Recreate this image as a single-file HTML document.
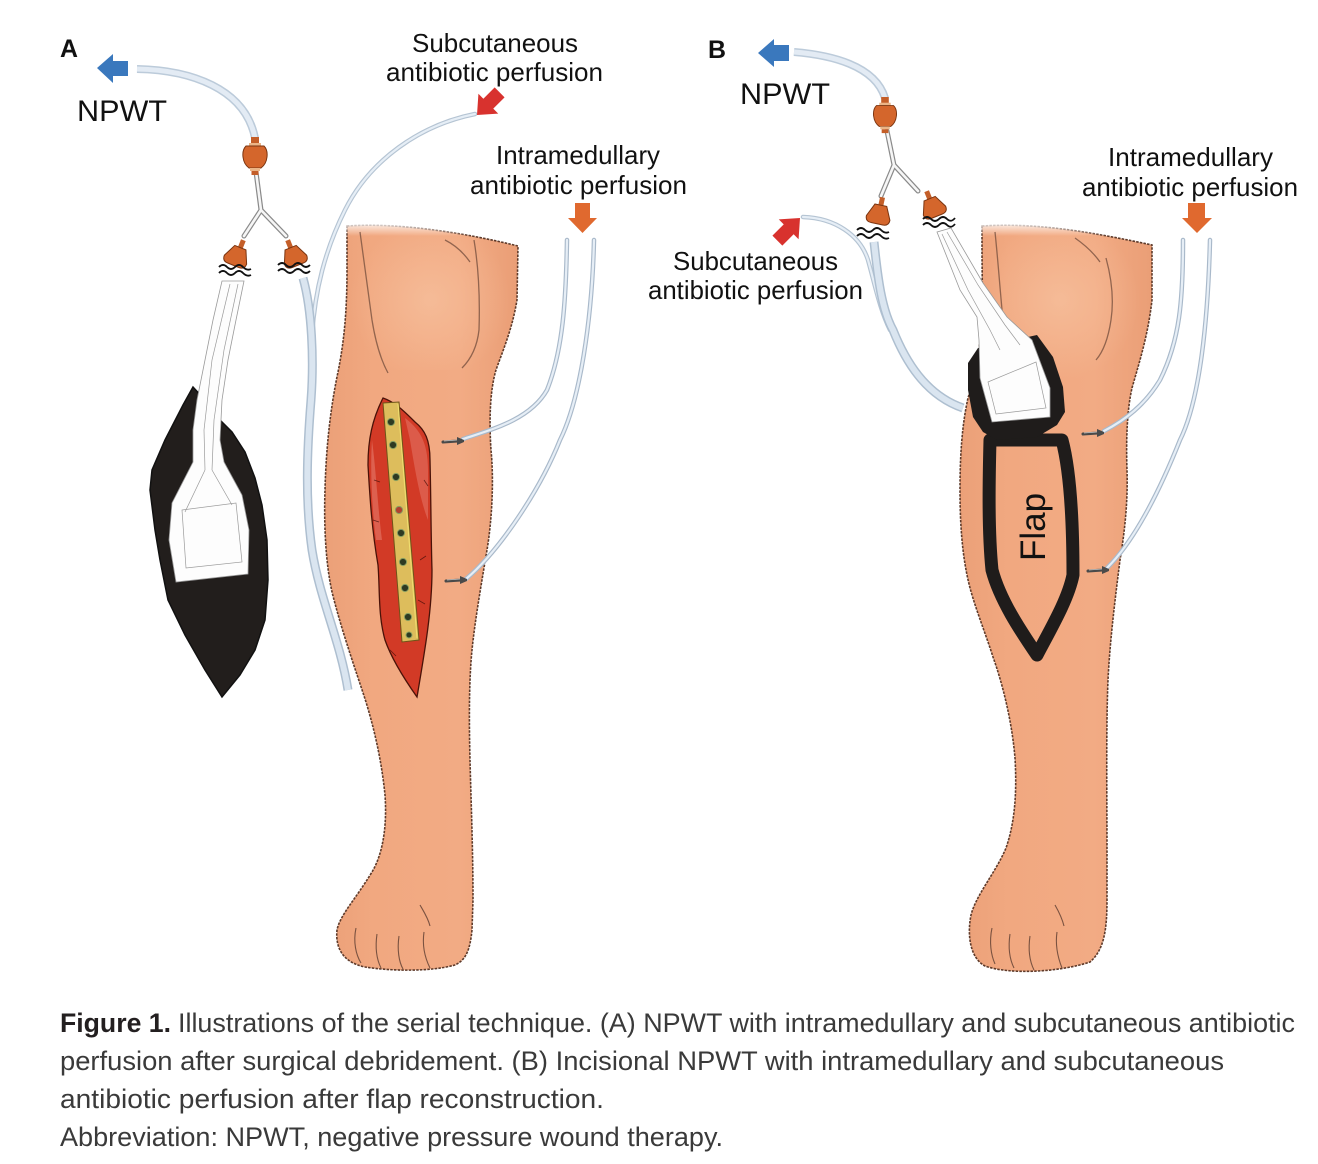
<!DOCTYPE html>
<html>
<head>
<meta charset="utf-8">
<style>
html,body{margin:0;padding:0;background:#fff;}
svg{display:block;}
text{font-family:"Liberation Sans",Arial,sans-serif;}
</style>
</head>
<body>
<svg width="1318" height="1164" viewBox="0 0 1318 1164" xmlns="http://www.w3.org/2000/svg">
<defs>
  <linearGradient id="skinH" x1="0" y1="0" x2="1" y2="0">
    <stop offset="0" stop-color="#eba078"/>
    <stop offset="0.25" stop-color="#f1a880"/>
    <stop offset="0.7" stop-color="#f2ab84"/>
    <stop offset="1" stop-color="#ea9e76"/>
  </linearGradient>
  <radialGradient id="kneeA" cx="430" cy="300" r="80" gradientUnits="userSpaceOnUse">
    <stop offset="0" stop-color="#f6bf9c" stop-opacity="0.8"/>
    <stop offset="1" stop-color="#f6bf9c" stop-opacity="0"/>
  </radialGradient>
  <radialGradient id="kneeB" cx="1060" cy="300" r="80" gradientUnits="userSpaceOnUse">
    <stop offset="0" stop-color="#f6bf9c" stop-opacity="0.8"/>
    <stop offset="1" stop-color="#f6bf9c" stop-opacity="0"/>
  </radialGradient>
  <linearGradient id="fadeTop" x1="0" y1="221" x2="0" y2="236" gradientUnits="userSpaceOnUse">
    <stop offset="0" stop-color="#fff" stop-opacity="0"/>
    <stop offset="1" stop-color="#fff" stop-opacity="1"/>
  </linearGradient>
  <mask id="legMask" maskUnits="userSpaceOnUse" x="0" y="0" width="1318" height="1164">
    <rect x="0" y="0" width="1318" height="1164" fill="url(#fadeTop)"/>
  </mask>
</defs>

<rect x="0" y="0" width="1318" height="1164" fill="#fff"/>

<!-- ================= PANEL A ================= -->
<g mask="url(#legMask)">
  <path d="M 347 226 C 400 222, 470 234, 518 246 L 517 300 C 512 330, 503 350, 496 370 C 490 390, 489 420, 491 450 C 494 480, 492 520, 487 550 C 482 580, 475 620, 472 650 C 469 680, 469 720, 470 760 C 471 800, 473 850, 473 900 L 472 930 C 470 950, 466 960, 455 965 C 430 972, 390 971, 365 967 C 345 963, 335 950, 337 930 C 340 915, 355 900, 372 872 C 384 852, 387 822, 385 795 C 382 765, 376 735, 366 702 C 355 668, 342 632, 332 592 C 325 560, 324 520, 325 490 C 326 450, 330 410, 338 372 C 344 342, 347 312, 347 270 Z" fill="url(#skinH)" stroke="#5e3a2a" stroke-width="1.6" stroke-dasharray="2.5 1.2"/>
  <path d="M 347 226 C 400 222, 470 234, 518 246 L 517 300 C 512 330, 503 350, 496 370 L 340 370 C 346 340, 347 312, 347 270 Z" fill="url(#kneeA)"/>
</g>
<g fill="none" stroke="#7a5240" stroke-width="1.3" opacity="0.8">
  <path d="M 360 232 C 364 260, 368 290, 372 320 C 376 345, 382 362, 388 373"/>
  <path d="M 474 240 C 479 270, 480 300, 479 330 C 477 348, 470 360, 462 368"/>
  <path d="M 445 240 C 455 245, 463 252, 470 262"/>
</g>
<g fill="none" stroke="#7a5240" stroke-width="1.1">
  <path d="M 356 928 C 353 942, 356 955, 361 963"/>
  <path d="M 377 934 C 375 948, 377 960, 381 968"/>
  <path d="M 399 936 C 397 950, 399 962, 403 969"/>
  <path d="M 424 932 C 422 946, 425 958, 430 968"/>
  <path d="M 420 905 C 424 912, 428 918, 430 926"/>
</g>

<!-- Wound A -->
<path d="M 383 398 C 395 402, 405 412, 415 422 C 425 430, 430 440, 430 460 C 431 500, 431 540, 432 570 C 432 610, 425 650, 417 697 C 405 680, 392 660, 385 640 C 378 615, 380 590, 378 565 C 372 530, 370 500, 368 465 C 368 440, 372 420, 383 398 Z" fill="#d23a26" stroke="#4a1208" stroke-width="1.3"/>
<path d="M 405 418 C 418 428, 428 440, 428 470 L 428 520 C 420 500, 415 470, 410 440 Z" fill="#e06a5a" opacity="0.7"/>
<path d="M 372 440 C 376 470, 378 510, 382 540 L 376 540 C 372 510, 370 470, 372 440 Z" fill="#e47a6a" opacity="0.6"/>
<g stroke="#3a0a05" stroke-width="0.8" fill="none" opacity="0.7">
  <path d="M 374 480 L 380 482 M 373 520 L 379 522 M 420 560 L 426 556 M 418 600 L 425 604 M 390 650 L 396 656 M 424 480 L 428 486"/>
</g>
<path d="M 383 403 L 399 402 L 419 640 L 402 642 Z" fill="#ddbd5c" stroke="#6e5418" stroke-width="1"/>
<line x1="398" y1="404" x2="417" y2="638" stroke="#f0e070" stroke-width="1"/>
<g fill="#2e3a22" stroke="#8aa060" stroke-width="1">
  <circle cx="391" cy="422" r="3.6"/>
  <circle cx="393" cy="445" r="3.6"/>
  <circle cx="396" cy="477" r="3.6"/>
  <circle cx="399" cy="510" r="3.6" fill="#b04030"/>
  <circle cx="401" cy="533" r="3.6"/>
  <circle cx="403" cy="562" r="3.6"/>
  <circle cx="405" cy="588" r="3.6"/>
  <circle cx="408" cy="617" r="3.6"/>
  <circle cx="409" cy="635" r="3"/>
</g>

<g fill="none" stroke-linecap="round">
  <path d="M 567 240 C 566 300, 563 350, 547 390 C 530 420, 490 430, 463 439" stroke="#a9b9ca" stroke-width="4.5"/>
  <path d="M 567 240 C 566 300, 563 350, 547 390 C 530 420, 490 430, 463 439" stroke="#e6eef6" stroke-width="2.2"/>
  <path d="M 594 240 C 592 320, 580 400, 560 440 C 540 490, 500 550, 466 579" stroke="#a9b9ca" stroke-width="4.5"/>
  <path d="M 594 240 C 592 320, 580 400, 560 440 C 540 490, 500 550, 466 579" stroke="#e6eef6" stroke-width="2.2"/>
</g>
<g>
  <line x1="443" y1="442" x2="458" y2="441" stroke="#4a4a4a" stroke-width="3" stroke-linecap="round"/>
  <path d="M 457 437 L 464 440 L 464 442 L 457 445 Z" fill="#4a4a4a"/>
  <line x1="444" y1="441" x2="457" y2="440" stroke="#c8c8c8" stroke-width="0.8"/>
  <line x1="446" y1="581" x2="461" y2="580" stroke="#4a4a4a" stroke-width="3" stroke-linecap="round"/>
  <path d="M 460 576 L 467 579 L 467 581 L 460 584 Z" fill="#4a4a4a"/>
  <line x1="447" y1="580" x2="460" y2="579" stroke="#c8c8c8" stroke-width="0.8"/>
</g>

<g fill="none" stroke-linecap="round">
  <path d="M 475 114 C 420 125, 370 160, 345 210 C 325 250, 315 290, 312 335" stroke="#b5c4d3" stroke-width="4.5"/>
  <path d="M 475 114 C 420 125, 370 160, 345 210 C 325 250, 315 290, 312 335" stroke="#e6eef6" stroke-width="2.2"/>
  <path d="M 303 278 C 312 310, 314 360, 311 400 C 307 450, 305 500, 312 550 C 320 600, 340 640, 348 690" stroke="#aebfd0" stroke-width="9" stroke-linecap="butt"/>
  <path d="M 303 278 C 312 310, 314 360, 311 400 C 307 450, 305 500, 312 550 C 320 600, 340 640, 348 690" stroke="#dae5f0" stroke-width="6" stroke-linecap="butt"/>
  <path d="M 137 69 C 190 70, 245 88, 255 138" stroke="#bccbda" stroke-width="8" stroke-linecap="butt"/>
  <path d="M 137 69 C 190 70, 245 88, 255 138" stroke="#e3ebf4" stroke-width="5" stroke-linecap="butt"/>
</g>

<!-- Black foam A -->
<path d="M 193 387 L 183 405 L 165 440 L 152 470 L 150 490 L 155 530 L 160 560 L 168 600 L 185 635 L 205 670 L 222 697 L 240 675 L 255 650 L 265 620 L 268 580 L 267 540 L 262 505 L 255 478 L 245 452 L 232 432 L 218 418 L 205 400 Z" fill="#221e1c" stroke="#111" stroke-width="1.5"/>
<path d="M 222 281 L 244 281 L 236 320 L 228 360 L 222 400 L 220 440 L 224 462 L 242 495 L 249 530 L 248 574 L 176 582 L 169 540 L 172 503 L 193 462 L 193 430 L 197 400 L 205 360 L 213 320 Z" fill="#fdfdfd" stroke="#9a9a9a" stroke-width="0.8"/>
<g fill="none" stroke="#9a9a9a" stroke-width="0.7">
  <path d="M 230 284 L 212 360 L 204 430 L 205 470"/>
  <path d="M 238 284 L 224 350 L 214 420 L 212 470"/>
  <path d="M 182 510 L 236 503 L 242 562 L 186 568 Z"/>
  <path d="M 205 470 L 185 512 M 212 470 L 232 505"/>
</g>

<g fill="none" stroke-linecap="round">
  <path d="M 256 172 L 261 210 M 261 210 L 244 236 M 261 210 L 286 236" stroke="#8a8a8a" stroke-width="5"/>
  <path d="M 256 172 L 261 210 M 261 210 L 244 236 M 261 210 L 286 236" stroke="#f6f6f6" stroke-width="2.6"/>
</g>
<g transform="translate(255,137)">
  <rect x="-4" y="0" width="8" height="7" fill="#c45e28"/>
  <rect x="-6" y="6" width="12" height="3" fill="#ebb587"/>
  <path d="M -9 9 C -14 14, -13 26, -6 31 L 6 31 C 13 26, 14 14, 9 9 Z" fill="#d4662c" stroke="#7a3410" stroke-width="1"/>
  <rect x="-5" y="31" width="10" height="3" fill="#ebb587"/>
  <rect x="-3.5" y="34" width="7" height="4" fill="#c45e28"/>
</g>
<g transform="translate(237,256) rotate(22)">
  <rect x="-2.5" y="-17" width="5" height="9" fill="#c45e28"/>
  <path d="M -6 -9 L 6 -9 L 12 4 C 12 9, 9 10, 6 10 L -6 10 C -9 10, -12 9, -12 4 Z" fill="#d4662c" stroke="#7a3410" stroke-width="1"/>
</g>
<g transform="translate(294,256) rotate(-22)">
  <rect x="-2.5" y="-17" width="5" height="9" fill="#c45e28"/>
  <path d="M -6 -9 L 6 -9 L 12 4 C 12 9, 9 10, 6 10 L -6 10 C -9 10, -12 9, -12 4 Z" fill="#d4662c" stroke="#7a3410" stroke-width="1"/>
</g>
<g fill="none" stroke="#111" stroke-width="1.8">
  <path d="M 219 267 q 4 -4 8 0 t 8 0 t 8 0 t 8 2"/>
  <path d="M 219 273 q 4 -4 8 0 t 8 0 t 8 0 t 8 2"/>
  <path d="M 278 265 q 4 -4 8 0 t 8 0 t 8 0 t 8 0"/>
  <path d="M 278 271 q 4 -4 8 0 t 8 0 t 8 0 t 8 0"/>
</g>

<path d="M 97 68 L 113 54 L 113 61 L 128 61 L 128 76 L 113 76 L 113 83 Z" fill="#3a78bd"/>
<path d="M 575 203 L 590 203 L 590 218 L 597 218 L 582.5 233 L 568 218 L 575 218 Z" fill="#e0692f"/>
<g transform="translate(477,115) rotate(135)">
  <path d="M 0 0 L -16 -14 L -16 -7 L -32 -7 L -32 7 L -16 7 L -16 14 Z" fill="#d8322e"/>
</g>

<text x="60" y="57" font-size="25" font-weight="bold" fill="#111" textLength="18" lengthAdjust="spacingAndGlyphs">A</text>
<text x="77" y="121" font-size="30" fill="#111" textLength="90" lengthAdjust="spacingAndGlyphs">NPWT</text>
<text x="412" y="52" font-size="26" fill="#111" textLength="166" lengthAdjust="spacingAndGlyphs">Subcutaneous</text>
<text x="386" y="81" font-size="26" fill="#111" textLength="217" lengthAdjust="spacingAndGlyphs">antibiotic perfusion</text>
<text x="496" y="164" font-size="26" fill="#111" textLength="164" lengthAdjust="spacingAndGlyphs">Intramedullary</text>
<text x="470" y="194" font-size="26" fill="#111" textLength="217" lengthAdjust="spacingAndGlyphs">antibiotic perfusion</text>

<!-- ================= PANEL B ================= -->
<g mask="url(#legMask)">
  <path d="M 982 226 C 1040 222, 1100 234, 1152 245 L 1152 300 C 1148 335, 1140 360, 1132 388 C 1127 410, 1126 440, 1127 470 C 1128 500, 1125 530, 1120 560 C 1115 600, 1110 640, 1108 680 C 1106 730, 1107 800, 1107 850 L 1107 900 C 1107 930, 1104 950, 1090 962 C 1060 972, 1010 975, 985 966 C 970 958, 967 935, 971 915 C 976 895, 996 872, 1006 848 C 1015 822, 1017 792, 1015 758 C 1012 722, 1003 685, 993 657 C 986 635, 979 618, 972 595 C 963 565, 960 530, 960 490 C 960 455, 962 425, 968 398 C 975 375, 979 355, 981 330 C 983 300, 982 270, 982 250 Z" fill="url(#skinH)" stroke="#5e3a2a" stroke-width="1.6" stroke-dasharray="2.5 1.2"/>
  <path d="M 982 226 C 1040 222, 1100 234, 1152 245 L 1152 300 C 1148 335, 1140 360, 1132 388 L 975 388 C 979 355, 982 300, 982 250 Z" fill="url(#kneeB)"/>
</g>
<g fill="none" stroke="#7a5240" stroke-width="1.3" opacity="0.8">
  <path d="M 995 232 C 998 260, 1000 290, 1003 320 C 1005 335, 1008 345, 1012 352"/>
  <path d="M 1106 258 C 1112 280, 1114 300, 1111 320 C 1108 340, 1103 352, 1096 360"/>
  <path d="M 1075 238 C 1085 245, 1093 252, 1100 262"/>
</g>
<g fill="none" stroke="#7a5240" stroke-width="1.1">
  <path d="M 992 928 C 989 942, 991 955, 995 964"/>
  <path d="M 1010 934 C 1008 948, 1010 960, 1014 968"/>
  <path d="M 1030 936 C 1028 950, 1030 962, 1034 970"/>
  <path d="M 1057 932 C 1055 946, 1058 958, 1062 968"/>
  <path d="M 1055 905 C 1059 912, 1062 918, 1064 926"/>
</g>

<path d="M 990 440 L 1062 440 C 1070 470, 1073 520, 1073 575 C 1068 600, 1050 630, 1037 655 C 1020 630, 1000 600, 992 570 C 988 530, 989 480, 990 440 Z" fill="none" stroke="#1f1c1b" stroke-width="13" stroke-linejoin="round"/>
<path d="M 968 363 L 978 348 L 1037 335 L 1053 357 L 1063 387 L 1065 412 L 1057 425 L 1037 437 L 997 440 L 983 432 L 973 417 L 968 390 Z" fill="#1f1c1b"/>
<path d="M 937 232 L 951 228 L 983 283 L 1007 317 L 1032 340 L 1050 388 L 1050 417 L 992 422 L 980 378 L 979 340 L 977 317 L 960 290 Z" fill="#fdfdfd" stroke="#9a9a9a" stroke-width="0.8"/>
<g fill="none" stroke="#9a9a9a" stroke-width="0.7">
  <path d="M 942 234 L 968 290 L 990 330 L 1000 350"/>
  <path d="M 947 232 L 978 285 L 1005 325 L 1020 345"/>
  <path d="M 988 382 L 1036 362 L 1046 408 L 996 414 Z"/>
</g>

<g fill="none" stroke-linecap="round">
  <path d="M 1183 240 C 1183 300, 1180 340, 1160 380 C 1145 405, 1125 420, 1104 431" stroke="#a9b9ca" stroke-width="4.5"/>
  <path d="M 1183 240 C 1183 300, 1180 340, 1160 380 C 1145 405, 1125 420, 1104 431" stroke="#e6eef6" stroke-width="2.2"/>
  <path d="M 1210 240 C 1208 320, 1200 400, 1180 440 C 1160 490, 1135 540, 1107 568" stroke="#a9b9ca" stroke-width="4.5"/>
  <path d="M 1210 240 C 1208 320, 1200 400, 1180 440 C 1160 490, 1135 540, 1107 568" stroke="#e6eef6" stroke-width="2.2"/>
</g>
<g>
  <line x1="1083" y1="434" x2="1098" y2="433" stroke="#4a4a4a" stroke-width="3" stroke-linecap="round"/>
  <path d="M 1097 429 L 1104 432 L 1104 434 L 1097 437 Z" fill="#4a4a4a"/>
  <line x1="1084" y1="433" x2="1097" y2="432" stroke="#c8c8c8" stroke-width="0.8"/>
  <line x1="1088" y1="571" x2="1103" y2="570" stroke="#4a4a4a" stroke-width="3" stroke-linecap="round"/>
  <path d="M 1102 566 L 1109 569 L 1109 571 L 1102 574 Z" fill="#4a4a4a"/>
  <line x1="1089" y1="570" x2="1102" y2="569" stroke="#c8c8c8" stroke-width="0.8"/>
</g>

<g fill="none" stroke-linecap="round">
  <path d="M 803 217 C 835 218, 860 235, 868 260 C 875 285, 880 310, 890 330" stroke="#b5c4d3" stroke-width="4.5"/>
  <path d="M 803 217 C 835 218, 860 235, 868 260 C 875 285, 880 310, 890 330" stroke="#e6eef6" stroke-width="2.2"/>
  <path d="M 874 242 C 878 280, 882 310, 893 330 C 905 360, 925 395, 963 408" stroke="#aebfd0" stroke-width="9" stroke-linecap="butt"/>
  <path d="M 874 242 C 878 280, 882 310, 893 330 C 905 360, 925 395, 963 408" stroke="#dae5f0" stroke-width="6" stroke-linecap="butt"/>
  <path d="M 794 52 C 830 55, 875 65, 885 98" stroke="#bccbda" stroke-width="8" stroke-linecap="butt"/>
  <path d="M 794 52 C 830 55, 875 65, 885 98" stroke="#e3ebf4" stroke-width="5" stroke-linecap="butt"/>
</g>

<g fill="none" stroke-linecap="round">
  <path d="M 887 131 L 894 165 M 894 165 L 881 196 M 894 165 L 918 191" stroke="#8a8a8a" stroke-width="5"/>
  <path d="M 887 131 L 894 165 M 894 165 L 881 196 M 894 165 L 918 191" stroke="#f6f6f6" stroke-width="2.6"/>
</g>
<g transform="translate(885,97) scale(0.95)">
  <rect x="-4" y="0" width="8" height="7" fill="#c45e28"/>
  <rect x="-6" y="6" width="12" height="3" fill="#ebb587"/>
  <path d="M -9 9 C -14 14, -13 26, -6 31 L 6 31 C 13 26, 14 14, 9 9 Z" fill="#d4662c" stroke="#7a3410" stroke-width="1"/>
  <rect x="-5" y="31" width="10" height="3" fill="#ebb587"/>
  <rect x="-3.5" y="34" width="7" height="4" fill="#c45e28"/>
</g>
<g transform="translate(879,214) rotate(12)">
  <rect x="-2.5" y="-17" width="5" height="9" fill="#c45e28"/>
  <path d="M -6 -9 L 6 -9 L 12 4 C 12 9, 9 10, 6 10 L -6 10 C -9 10, -12 9, -12 4 Z" fill="#d4662c" stroke="#7a3410" stroke-width="1"/>
</g>
<g transform="translate(933,207) rotate(-22)">
  <rect x="-2.5" y="-17" width="5" height="9" fill="#c45e28"/>
  <path d="M -6 -9 L 6 -9 L 12 4 C 12 9, 9 10, 6 10 L -6 10 C -9 10, -12 9, -12 4 Z" fill="#d4662c" stroke="#7a3410" stroke-width="1"/>
</g>
<g fill="none" stroke="#111" stroke-width="1.8">
  <path d="M 857 230 q 4 -4 8 0 t 8 0 t 8 0 t 8 2"/>
  <path d="M 857 236 q 4 -4 8 0 t 8 0 t 8 0 t 8 2"/>
  <path d="M 923 219 q 4 -4 8 0 t 8 0 t 8 0 t 8 -1"/>
  <path d="M 923 225 q 4 -4 8 0 t 8 0 t 8 0 t 8 -1"/>
</g>

<path d="M 758 53 L 774 39 L 774 45 L 789 45 L 789 61 L 774 61 L 774 67 Z" fill="#3a78bd"/>
<path d="M 1188 203 L 1205 203 L 1205 218 L 1212 218 L 1197 233 L 1182 218 L 1188 218 Z" fill="#e0692f"/>
<g transform="translate(800,218) rotate(-45)">
  <path d="M 0 0 L -16 -14 L -16 -7 L -32 -7 L -32 7 L -16 7 L -16 14 Z" fill="#d8322e"/>
</g>

<text x="708" y="58" font-size="25" font-weight="bold" fill="#111" textLength="18" lengthAdjust="spacingAndGlyphs">B</text>
<text x="740" y="104" font-size="30" fill="#111" textLength="90" lengthAdjust="spacingAndGlyphs">NPWT</text>
<text x="1108" y="166" font-size="26" fill="#111" textLength="165" lengthAdjust="spacingAndGlyphs">Intramedullary</text>
<text x="1082" y="196" font-size="26" fill="#111" textLength="216" lengthAdjust="spacingAndGlyphs">antibiotic perfusion</text>
<text x="673" y="270" font-size="26" fill="#111" textLength="165" lengthAdjust="spacingAndGlyphs">Subcutaneous</text>
<text x="648" y="299" font-size="26" fill="#111" textLength="215" lengthAdjust="spacingAndGlyphs">antibiotic perfusion</text>
<text transform="translate(1045,527) rotate(-90)" font-size="35" fill="#111" text-anchor="middle">Flap</text>

<!-- ================= CAPTION ================= -->
<text x="60" y="1032" font-size="27" font-weight="bold" fill="#231f20" textLength="111" lengthAdjust="spacingAndGlyphs">Figure 1.</text>
<text x="178" y="1032" font-size="27" fill="#3a3a3a" textLength="1117" lengthAdjust="spacingAndGlyphs">Illustrations of the serial technique. (A) NPWT with intramedullary and subcutaneous antibiotic</text>
<text x="60" y="1070" font-size="27" fill="#3a3a3a" textLength="1164" lengthAdjust="spacingAndGlyphs">perfusion after surgical debridement. (B) Incisional NPWT with intramedullary and subcutaneous</text>
<text x="60" y="1108" font-size="27" fill="#3a3a3a" textLength="544" lengthAdjust="spacingAndGlyphs">antibiotic perfusion after flap reconstruction.</text>
<text x="60" y="1146" font-size="27" fill="#3a3a3a" textLength="663" lengthAdjust="spacingAndGlyphs">Abbreviation: NPWT, negative pressure wound therapy.</text>
</svg>
</body>
</html>
